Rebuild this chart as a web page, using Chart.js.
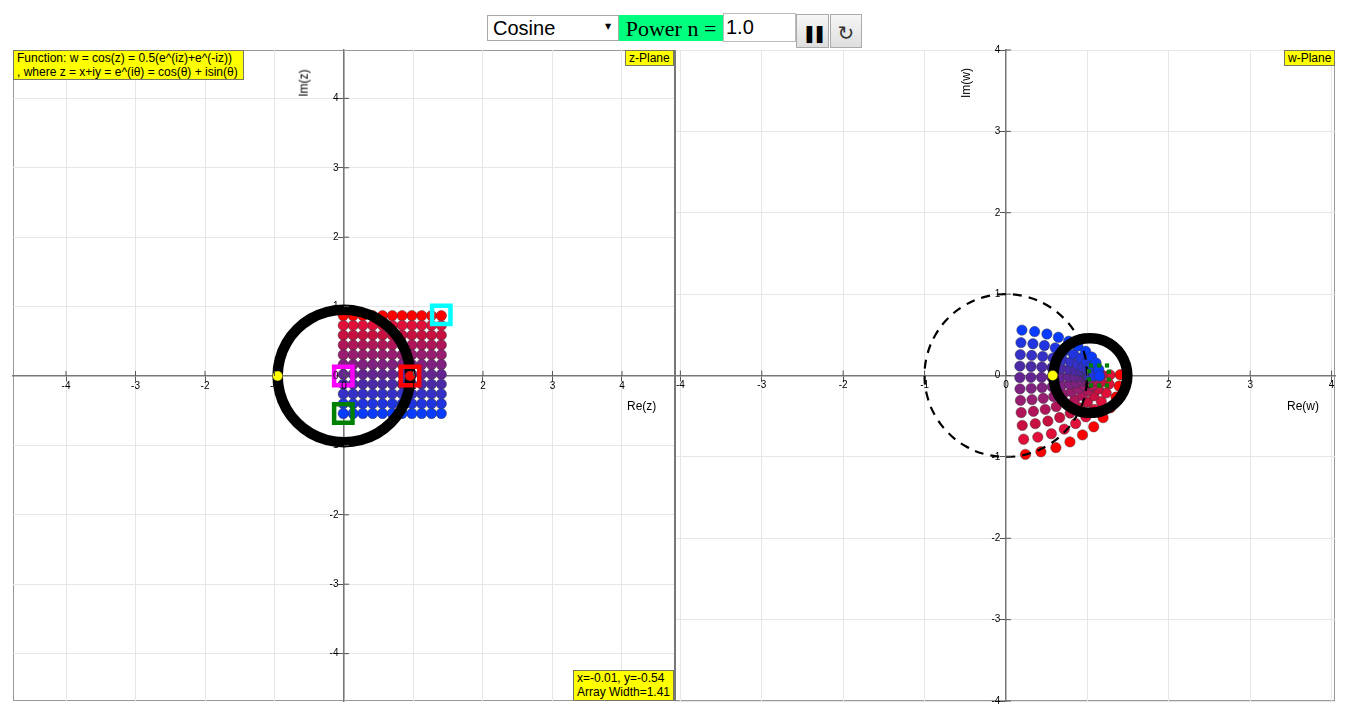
<!DOCTYPE html>
<html>
<head>
<meta charset="utf-8">
<title>Cosine</title>
<script src="https://cdn.jsdelivr.net/npm/chart.js@4/dist/chart.umd.js"></script>
<style>
body { margin: 0; background: #fff; font-family: "Liberation Sans", Arial, sans-serif; overflow: hidden; }
.abs { position: absolute; }
#frame { left: 13px; top: 50px; width: 1322px; height: 651px; border: 1px solid #999; box-sizing: border-box; }
#divider { left: 674px; top: 50px; width: 2px; height: 651px; background: #777; }
canvas { position: absolute; }
#pickFn { left: 487px; top: 15px; width: 132px; height: 26px; font: 20px "Liberation Sans"; background: #fff; border: 1px solid #aaa; padding: 0 0 0 5px; box-sizing: border-box; border-radius: 0; appearance: none; -webkit-appearance: none; }
#pickArrow { left: 605px; top: 22px; font: 8px "DejaVu Sans"; color: #000; pointer-events: none; }
#powerLabel { left: 619px; top: 15px; width: 104px; height: 26px; background: #00ff7f; font: 22px/27px "Liberation Serif"; text-align: center; white-space: nowrap; }
#powerInput { left: 723px; top: 13px; width: 73px; height: 29px; font: 20px "Liberation Sans"; border: 1px solid #bbb; padding: 0 0 0 2px; box-sizing: border-box; }
.btn { top: 14px; height: 34px; border: 1px solid #aaa; box-sizing: border-box; background: linear-gradient(#f6f6f6, #dedede); padding: 4px 0 0 0; color: #000; text-align: center; }
.tag { background: #ff0; border: 1px solid #776; box-sizing: border-box; font: 12px/14px "Liberation Sans"; color: #000; padding: 0 3px; white-space: nowrap; z-index: 5; }
.axisName { font: 12px "Liberation Sans"; color: #000; z-index: 4; }
</style>
</head>
<body>
<div id="frame" class="abs"></div>

<select id="pickFn" class="abs"><option>Cosine</option></select>
<div id="pickArrow" class="abs">▼</div>
<div id="powerLabel" class="abs">Power n =</div>
<input id="powerInput" class="abs" value="1.0">
<button class="btn abs" style="left:796px;width:33px;font:bold 17px 'DejaVu Sans';letter-spacing:-4px">❚❚</button>
<button class="btn abs" style="left:830px;width:32px;font:20px 'DejaVu Sans';color:#333">↻</button>

<canvas id="zChart" style="left:-3px;top:34px"></canvas>
<canvas id="wChart" style="left:659px;top:34px"></canvas>
<div id="divider" class="abs"></div>

<div class="tag abs" style="left:13px;top:50px;width:231px;height:30px">Function: w = cos(z) = 0.5(e^(iz)+e^(-iz))<br>, where z = x+iy = e^(iθ) = cos(θ) + isin(θ)</div>
<div class="tag abs" style="left:625px;top:50px;width:49px;height:16px;line-height:15px">z-Plane</div>
<div class="tag abs" style="left:1284px;top:50px;width:51px;height:16px;line-height:15px">w-Plane</div>
<div class="tag abs" style="left:573px;top:670px;width:101px;height:31px">x=-0.01, y=-0.54<br>Array Width=1.41</div>

<div class="axisName abs" style="left:627px;top:399px">Re(z)</div>
<div class="axisName abs" style="left:1287px;top:399px">Re(w)</div>
<div class="axisName abs" style="left:290px;top:76px;transform:rotate(-90deg)">Im(z)</div>
<div class="axisName abs" style="left:951px;top:76px;transform:rotate(-90deg)">Im(w)</div>

<script>
var zTicks = [-4, -3, -2, -1, 0, 1, 2, 3, 4];
var wTicksX = [-4, -3, -2, -1, 0, 1, 2, 3, 4];
var wTicksY = [-4, -3, -2, -1, 0, 1, 2, 3, 4];

// the array of dots in the z plane
var gridX = [-0.01, 0.131, 0.272, 0.413, 0.554, 0.695, 0.836, 0.977, 1.118, 1.259, 1.40];
var gridY = [-0.54, -0.399, -0.258, -0.117, 0.024, 0.165, 0.306, 0.447, 0.588, 0.729, 0.87];

// the same dots in the w plane, one row per gridY value
var wRe = [
    [1.150, 1.140, 1.107, 1.053, 0.978, 0.883, 0.771, 0.644, 0.503, 0.352, 0.196],
    [1.081, 1.071, 1.041, 0.990, 0.919, 0.830, 0.724, 0.605, 0.472, 0.331, 0.184],
    [1.033, 1.024, 0.995, 0.946, 0.878, 0.793, 0.692, 0.578, 0.451, 0.316, 0.176],
    [1.007, 0.998, 0.970, 0.922, 0.856, 0.773, 0.675, 0.564, 0.440, 0.308, 0.171],
    [1.000, 0.991, 0.963, 0.916, 0.850, 0.768, 0.670, 0.560, 0.437, 0.306, 0.170],
    [1.014, 1.005, 0.976, 0.929, 0.862, 0.779, 0.679, 0.568, 0.443, 0.310, 0.172],
    [1.047, 1.038, 1.008, 0.959, 0.890, 0.804, 0.701, 0.586, 0.458, 0.320, 0.178],
    [1.102, 1.092, 1.061, 1.009, 0.937, 0.846, 0.738, 0.617, 0.482, 0.337, 0.187],
    [1.178, 1.167, 1.134, 1.079, 1.001, 0.905, 0.789, 0.660, 0.515, 0.360, 0.200],
    [1.278, 1.266, 1.231, 1.171, 1.086, 0.981, 0.856, 0.716, 0.558, 0.391, 0.217],
    [1.403, 1.390, 1.351, 1.285, 1.193, 1.078, 0.940, 0.786, 0.613, 0.429, 0.239]
];
var wIm = [
    [-0.006, 0.074, 0.153, 0.227, 0.298, 0.363, 0.421, 0.470, 0.510, 0.540, 0.558],
    [-0.004, 0.054, 0.110, 0.164, 0.216, 0.262, 0.304, 0.340, 0.369, 0.390, 0.404],
    [-0.003, 0.034, 0.070, 0.105, 0.137, 0.167, 0.194, 0.216, 0.235, 0.248, 0.257],
    [-0.001, 0.015, 0.031, 0.047, 0.062, 0.075, 0.087, 0.097, 0.105, 0.111, 0.115],
    [0.000, -0.003, -0.006, -0.010, -0.013, -0.015, -0.018, -0.020, -0.022, -0.023, -0.024],
    [0.002, -0.022, -0.045, -0.067, -0.087, -0.106, -0.123, -0.138, -0.149, -0.158, -0.164],
    [0.003, -0.041, -0.084, -0.125, -0.164, -0.199, -0.231, -0.258, -0.280, -0.296, -0.306],
    [0.005, -0.061, -0.124, -0.185, -0.243, -0.296, -0.343, -0.383, -0.416, -0.440, -0.455],
    [0.006, -0.081, -0.167, -0.249, -0.327, -0.398, -0.462, -0.516, -0.560, -0.592, -0.613],
    [0.008, -0.104, -0.214, -0.319, -0.418, -0.509, -0.590, -0.659, -0.716, -0.757, -0.783],
    [0.010, -0.129, -0.265, -0.395, -0.518, -0.630, -0.730, -0.816, -0.886, -0.937, -0.969]
];

// thick black ring in each plane
var zRingRe = [0.955, 0.922, 0.827, 0.675, 0.478, 0.247, 0, -0.247, -0.478, -0.675, -0.827, -0.922, -0.955, -0.922, -0.827, -0.675, -0.478, -0.247, 0, 0.247, 0.478, 0.675, 0.827, 0.922, 0.955];
var zRingIm = [0, 0.247, 0.478, 0.675, 0.827, 0.922, 0.955, 0.922, 0.827, 0.675, 0.478, 0.247, 0, -0.247, -0.478, -0.675, -0.827, -0.922, -0.955, -0.922, -0.827, -0.675, -0.478, -0.247, 0];
var wRingRe = [0.578, 0.623, 0.755, 0.965, 1.209, 1.411, 1.491, 1.411, 1.209, 0.965, 0.755, 0.623, 0.578];
var wRingIm = [0, -0.199, -0.365, -0.454, -0.425, -0.259, 0, 0.259, 0.425, 0.454, 0.365, 0.199, 0];

// dashed unit circle in the w plane
var unitRe = [1, 0.966, 0.866, 0.707, 0.5, 0.259, 0, -0.259, -0.5, -0.707, -0.866, -0.966, -1, -0.966, -0.866, -0.707, -0.5, -0.259, 0, 0.259, 0.5, 0.707, 0.866, 0.966, 1];
var unitIm = [0, 0.259, 0.5, 0.707, 0.866, 0.966, 1, 0.966, 0.866, 0.707, 0.5, 0.259, 0, -0.259, -0.5, -0.707, -0.866, -0.966, -1, -0.966, -0.866, -0.707, -0.5, -0.259, 0];

// small green marks around the blue dot in the w plane
var greenRe = [1.044, 1.146, 1.241, 1.02, 1.265, 1.02, 1.265, 1.044, 1.146, 1.241];
var greenIm = [0.123, 0.123, 0.123, 0.053, 0.045, -0.049, -0.049, -0.123, -0.123, -0.123];

// marker squares and dots in the z plane
var magentaRe = [-0.01], magentaIm = [0];
var greenSqRe = [-0.01], greenSqIm = [-0.54];
var redSqRe = [0.95], redSqIm = [0];
var cyanSqRe = [1.40], cyanSqIm = [0.88];
var zYellowRe = [-0.955], zYellowIm = [0];
var wYellowRe = [0.574], wYellowIm = [0];

// colour of each gridY row, bottom to top
var rowColors = ['#0a3cff', '#2035e0', '#3530c8', '#4a2aa8', '#642592', '#802080', '#981c70', '#b0155a', '#c81040', '#e0103a', '#ff0000'];

function points(xs, ys) {
    var out = [];
    for (var i = 0; i < xs.length; i++) {
        out.push({ x: xs[i], y: ys[i] });
    }
    return out;
}

// dots go from red down to blue so the blue corner lands on top
function dotDataset(getX, getY) {
    var data = [], colors = [];
    for (var j = gridY.length - 1; j >= 0; j--) {
        for (var i = gridX.length - 1; i >= 0; i--) {
            data.push({ x: getX(i, j), y: getY(i, j) });
            colors.push(rowColors[j]);
        }
    }
    return {
        data: data,
        pointBackgroundColor: colors,
        pointBorderColor: 'rgba(50,50,50,0.45)',
        pointBorderWidth: 1,
        pointRadius: 5.2,
        showLine: false
    };
}

function ringDataset(xs, ys) {
    return {
        data: points(xs, ys),
        showLine: true,
        borderColor: '#000',
        borderWidth: 10.5,
        borderCapStyle: 'round',
        tension: 0.4,
        pointRadius: 0
    };
}

function squareDataset(xs, ys, color) {
    return {
        data: points(xs, ys),
        showLine: false,
        pointStyle: 'rect',
        pointRadius: 13,
        pointBackgroundColor: 'rgba(0,0,0,0)',
        pointBorderColor: color,
        pointBorderWidth: 4.5
    };
}

function dotMarker(xs, ys, color) {
    return {
        data: points(xs, ys),
        showLine: false,
        pointRadius: 5,
        pointBackgroundColor: color,
        pointBorderColor: 'rgba(60,60,60,0.4)',
        pointBorderWidth: 1
    };
}

function axis(range, tickList, pos, pad, tail) {
    return {
        type: 'linear',
        min: range[0],
        max: range[1],
        position: pos,
        afterBuildTicks: function (scale) {
            scale.ticks = tickList.map(function (v) { return { value: v }; });
        },
        grid: { color: '#e6e6e6', lineWidth: 1, tickColor: '#555', tickLength: 5, z: -1 },
        border: { color: '#777', width: 1.5 },
        ticks: {
            z: 1,
            autoSkip: false,
            maxRotation: 0,
            padding: pad,
            color: '#000',
            font: { family: 'Liberation Sans', size: 10 },
            // a centred y axis ignores ticks.padding, the trailing spaces push the labels left
            callback: function (v) { return v + tail; }
        }
    };
}

// tick marks in the reference cross the axis, the library only draws the outer half
var crossTicks = {
    id: 'crossTicks',
    afterDraw: function (chart) {
        var c = chart.ctx, xs = chart.scales.x, ys = chart.scales.y;
        var x0 = xs.getPixelForValue(0), y0 = ys.getPixelForValue(0);
        c.save();
        c.strokeStyle = '#555';
        c.lineWidth = 1;
        c.beginPath();
        xs.ticks.forEach(function (t) {
            var px = xs.getPixelForValue(t.value);
            c.moveTo(px, y0);
            c.lineTo(px, y0 - 5);
        });
        ys.ticks.forEach(function (t) {
            var py = ys.getPixelForValue(t.value);
            c.moveTo(x0, py);
            c.lineTo(x0 + 5, py);
        });
        c.stroke();
        c.restore();
    }
};

function makeChart(id, w, h, datasets, xAxis, yAxis) {
    var cv = document.getElementById(id);
    cv.style.width = w + 'px';
    cv.style.height = h + 'px';
    cv.width = w;
    cv.height = h;
    return new Chart(cv.getContext('2d'), {
        type: 'scatter',
        data: { datasets: datasets },
        plugins: [crossTicks],
        options: {
            responsive: false,
            animation: false,
            layout: { padding: 16, autoPadding: false },
            plugins: { legend: { display: false }, tooltip: { enabled: false } },
            scales: { x: xAxis, y: yAxis }
        }
    });
}

// first dataset in the list is painted last
makeChart('zChart', 694, 683, [
    squareDataset(magentaRe, magentaIm, '#ff00ff'),
    squareDataset(greenSqRe, greenSqIm, '#008000'),
    squareDataset(redSqRe, redSqIm, '#ff0000'),
    squareDataset(cyanSqRe, cyanSqIm, '#00ffff'),
    dotMarker(zYellowRe, zYellowIm, '#ffff00'),
    dotMarker(redSqRe, redSqIm, '#ff0000'),
    ringDataset(zRingRe, zRingIm),
    dotDataset(function (i, j) { return gridX[i]; }, function (i, j) { return gridY[j]; })
], axis([-4.763, 4.763], zTicks, { y: 0 }, -1, ''), axis([-4.683, 4.697], zTicks, { x: 0 }, 2, '  '));

makeChart('wChart', 692, 683, [
    dotMarker(wYellowRe, wYellowIm, '#ffff00'),
    ringDataset(wRingRe, wRingIm),
    {
        data: points(greenRe, greenIm),
        showLine: false,
        pointStyle: 'rect',
        pointRadius: 3,
        pointBackgroundColor: '#008000',
        pointBorderWidth: 0
    },
    {
        data: points(unitRe, unitIm),
        showLine: true,
        borderColor: '#000',
        borderWidth: 2.2,
        borderDash: [9, 7],
        tension: 0.4,
        pointRadius: 0
    },
    dotDataset(function (i, j) { return wRe[j][i]; }, function (i, j) { return wIm[j][i]; })
], axis([-4.066, 4.042], wTicksX, { y: 0 }, -1, ''), axis([-4, 4], wTicksY, { x: 0 }, 2, '  '));
</script>
</body>
</html>
